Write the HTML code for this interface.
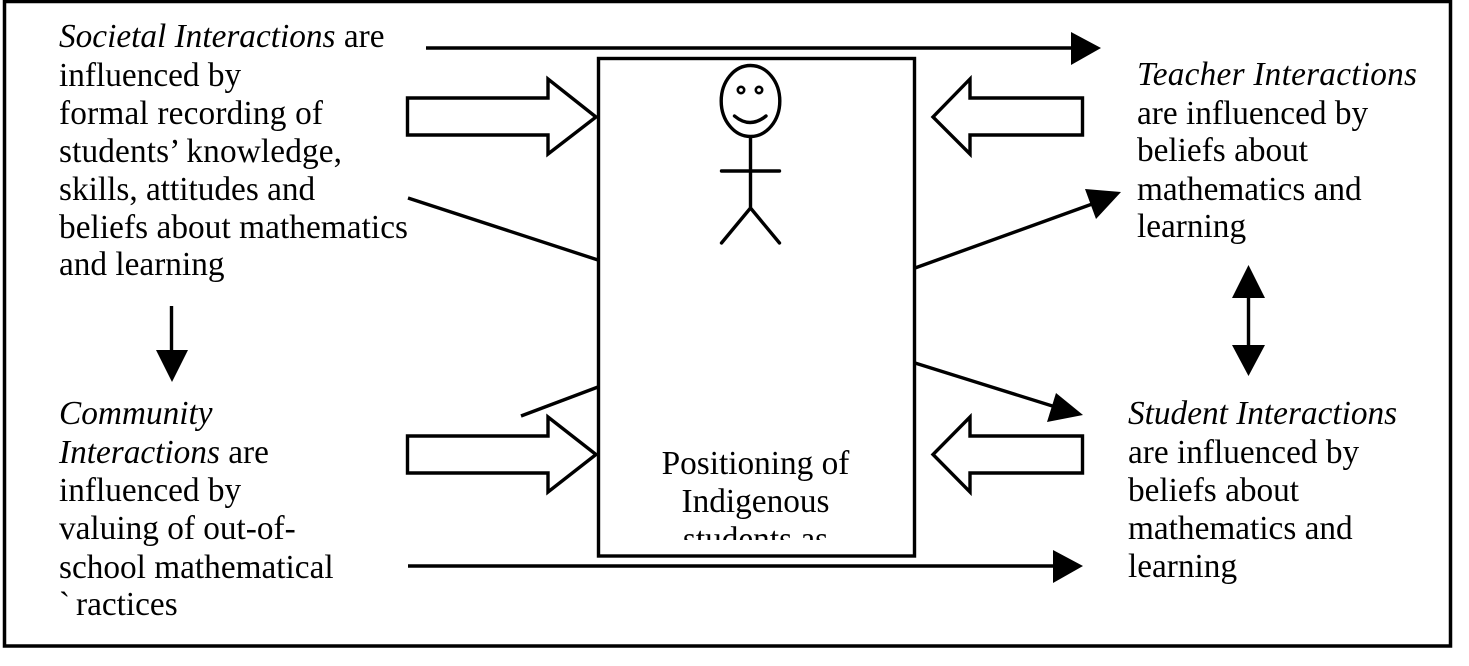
<!DOCTYPE html>
<html>
<head>
<meta charset="utf-8">
<style>
html,body{margin:0;padding:0;background:#fff;width:1469px;height:666px;overflow:hidden}
svg{display:block}
text{font-family:"Liberation Serif",serif;font-size:33.3px;fill:#000}
.i{font-style:italic}
.c{text-anchor:middle}
</style>
</head>
<body>
<svg width="1469" height="666" viewBox="0 0 1469 666" xmlns="http://www.w3.org/2000/svg">
<defs><clipPath id="clip"><rect x="600" y="400" width="313" height="140"/></clipPath></defs>
<rect x="4.5" y="1.5" width="1446" height="644.5" fill="#fff" stroke="#000" stroke-width="3.5"/>
<rect x="598.5" y="58.5" width="316" height="497.5" fill="#fff" stroke="#000" stroke-width="3.4"/>

<g fill="#fff" stroke="#000" stroke-width="3.4" stroke-linejoin="miter">
<path d="M407.5 98H548V79L596 117L548 154V135H407.5Z"/>
<path d="M407.5 436H548V417L596 454.500L548 492V473H407.5Z"/>
<path d="M1082.500 98H970V79L933 117L970 154V135H1082.500Z"/>
<path d="M1082.500 436H970V417L933 454.500L970 492V473H1082.500Z"/>
</g>

<g stroke="#000" stroke-width="3.4" fill="none">
<path d="M426 48H1075"/>
<path d="M408 566H1058"/>
<path d="M408 198L598 260"/>
<path d="M521 416L598 387"/>
<path d="M915 268L1095 203"/>
<path d="M915 363L1062 409"/>
<path d="M1248.500 290V350"/>
<path d="M171.500 306V355"/>
</g>
<g fill="#000">
<path d="M1071 32L1101 48L1071 65Z"/>
<path d="M1053 550L1083 566L1053 583Z"/>
<path d="M1085 189L1121 192L1096 219Z"/>
<path d="M1056 393L1083 415L1047 422Z"/>
<path d="M1248.500 265L1265 298H1232Z"/>
<path d="M1248.500 376L1265 345H1232Z"/>
<path d="M172 382L188 350H156Z"/>
</g>

<g fill="none" stroke="#000" stroke-width="3.4" stroke-linecap="round">
<ellipse cx="750.500" cy="101" rx="29.300" ry="35.500"/>
<path d="M750.500 137V208M721.500 171H779.500M750.500 208L721.500 243M750.500 208L779.500 243"/>
<path d="M734.500 116Q750 129 766 116"/>
<circle cx="741" cy="90" r="3.200" stroke-width="2.600"/>
<circle cx="759" cy="90" r="3.200" stroke-width="2.600"/>
</g>

<text x="59" y="47"><tspan class="i">Societal Interactions</tspan> are</text>
<text x="59" y="86">influenced by</text>
<text x="59" y="124" textLength="264">formal recording of</text>
<text x="59" y="162" textLength="283">students’ knowledge,</text>
<text x="59" y="200">skills, attitudes and</text>
<text x="59" y="238" textLength="349">beliefs about mathematics</text>
<text x="59" y="275">and learning</text>

<text x="59" y="424" class="i">Community</text>
<text x="59" y="463"><tspan class="i">Interactions</tspan> are</text>
<text x="59" y="501">influenced by</text>
<text x="59" y="539">valuing of out-of-</text>
<text x="59" y="578">school mathematical</text>
<text x="59" y="615">` <tspan x="76">ractices</tspan></text>

<text x="1137" y="85" class="i" textLength="280">Teacher Interactions</text>
<text x="1137" y="124">are influenced by</text>
<text x="1137" y="161">beliefs about</text>
<text x="1137" y="200">mathematics and</text>
<text x="1137" y="237">learning</text>

<text x="1128" y="424" class="i">Student Interactions</text>
<text x="1128" y="463">are influenced by</text>
<text x="1128" y="501">beliefs about</text>
<text x="1128" y="539">mathematics and</text>
<text x="1128" y="577">learning</text>

<g clip-path="url(#clip)">
<text x="755.500" y="474" class="c">Positioning of</text>
<text x="755.500" y="512" class="c">Indigenous</text>
<text x="755.500" y="550" class="c">students as</text>
</g>
</svg>
</body>
</html>
